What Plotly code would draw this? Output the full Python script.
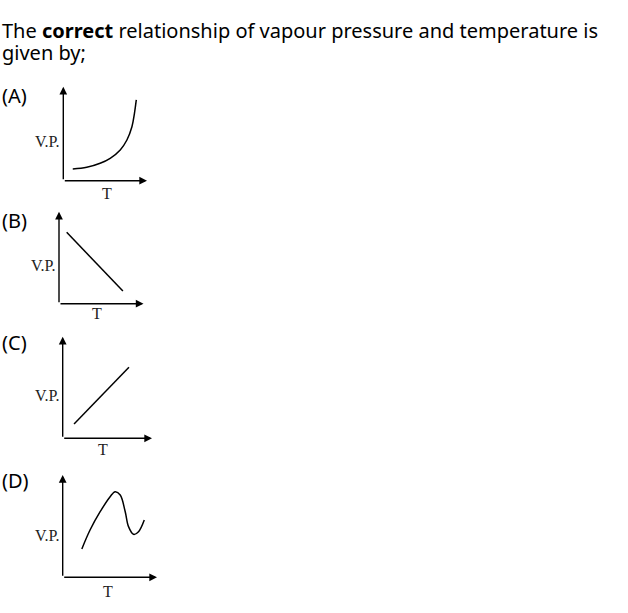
import plotly.graph_objects as go

W, H = 628, 613

# ---- data (schematic curves, in arbitrary axis units 0..10) ----
panel_labels = ["(A)", "(B)", "(C)", "(D)"]
x_label = "T"
y_label = "V.P."
title_lines = ["The <b>correct</b> relationship of vapour pressure and temperature is", "given by;"]

a_T = [1.13, 2.8, 4.4, 5.6, 6.8, 7.6, 8.2, 8.5, 8.72]
a_VP = [1.24, 1.42, 1.85, 2.38, 3.27, 4.33, 5.74, 7.17, 8.59]

b_T = [0.91, 7.56]
b_VP = [7.76, 1.38]

c_T = [1.27, 7.42]
c_VP = [1.41, 6.99]

d_T = [2.03, 2.9, 3.97, 5.03, 5.56, 6.1, 6.63, 6.98, 7.51, 8.04, 8.65]
d_VP = [2.77, 4.62, 6.41, 7.88, 8.37, 8.05, 6.41, 4.95, 4.2, 4.46, 5.6]

series = [(a_T, a_VP), (b_T, b_VP), (c_T, c_VP), (d_T, d_VP)]

# ---- layout geometry (pixels) ----
# origin x, origin y, x-arrow tip, y-arrow tip
boxes = [
    (63.3, 180.7, 147.0, 86.7),
    (59.0, 303.7, 143.5, 211.7),
    (62.7, 438.3, 152.0, 336.7),
    (62.7, 577.3, 157.0, 475.0),
]
label_y = [96, 220, 342, 481]
vp_pos_y = [141.5, 265.5, 395.0, 535.5]
t_pos = [(106.7, 193.5), (96.7, 313.5), (103.3, 449.0), (107.5, 591.0)]
title_y = [15, 37]


def px(x):
    return x / W


def py(y):
    return 1 - y / H


fig = go.Figure()
annotations = []
for i, ((xs, ys), (ox, oy, xt, yt)) in enumerate(zip(series, boxes)):
    n = "" if i == 0 else str(i + 1)
    fig.add_trace(go.Scatter(
        x=xs, y=ys, mode="lines",
        line=dict(color="black", width=1.5, shape="spline", smoothing=1.0),
        xaxis="x" + n, yaxis="y" + n, showlegend=False, hoverinfo="skip",
    ))
    ax_common = dict(range=[0, 10], showgrid=False, zeroline=False,
                     showticklabels=False, ticks="", showline=False, fixedrange=True)
    fig.update_layout(**{
        "xaxis" + n: dict(domain=[px(ox), px(xt)], anchor="y" + n, **ax_common),
        "yaxis" + n: dict(domain=[py(oy), py(yt)], anchor="x" + n, **ax_common),
    })
    xr, yr = "x" + n, "y" + n
    # axes with arrowheads
    for (tx, ty) in [(10, 0), (0, 10)]:
        annotations.append(dict(
            x=tx, y=ty, ax=0, ay=0, xref=xr, yref=yr, axref=xr, ayref=yr,
            showarrow=True, arrowhead=2, arrowsize=1.1, arrowwidth=1.4,
            arrowcolor="black", text="",
        ))
    # axis labels
    annotations.append(dict(
        x=px(ox - 1), y=py(vp_pos_y[i]), xref="paper", yref="paper",
        text=y_label, showarrow=False, xanchor="right", yanchor="middle",
        font=dict(family="Liberation Serif", size=16, color="#222"),
    ))
    annotations.append(dict(
        x=px(t_pos[i][0]), y=py(t_pos[i][1]), xref="paper", yref="paper",
        text=x_label, showarrow=False, xanchor="center", yanchor="middle",
        font=dict(family="Liberation Serif", size=16, color="#222"),
    ))
    # panel label
    annotations.append(dict(
        x=0, y=py(label_y[i]), xref="paper", yref="paper",
        text=panel_labels[i], showarrow=False, xanchor="left", yanchor="middle",
        font=dict(family="Noto Sans", size=20, color="black"),
    ))

for line, ty in zip(title_lines, title_y):
    annotations.append(dict(
        x=0, y=py(ty), xref="paper", yref="paper", align="left",
        text=line, showarrow=False, xanchor="left", yanchor="top",
        font=dict(family="Noto Sans", size=20, color="black"),
    ))

fig.update_layout(
    width=W, height=H, margin=dict(l=0, r=0, t=0, b=0),
    paper_bgcolor="white", plot_bgcolor="white",
    annotations=annotations,
)

fig.write_html(
    "out.html",
    config={"displayModeBar": False},
    post_script="document.body.style.margin='0';document.body.style.overflow='hidden';",
)
